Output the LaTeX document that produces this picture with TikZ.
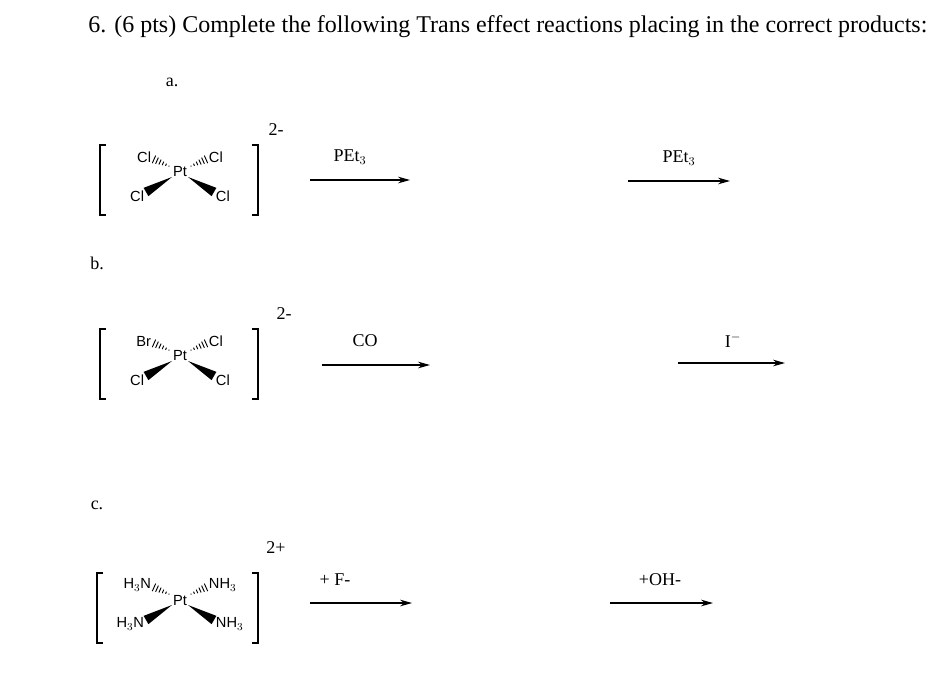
\documentclass[tikz,border=0pt]{standalone}
\usepackage{fontspec}
\setmainfont{Liberation Serif}
\newfontfamily\chemf{Liberation Sans}
\usetikzlibrary{calc,arrows.meta}
\tikzset{lab/.style={font=\chemf\fontsize{11}{12}\selectfont,inner sep=0.5pt},
 txt/.style={font=\fontsize{13.5}{15}\selectfont,inner sep=0pt},
 rxn/.style={-{Stealth[length=9pt,width=5pt]},line width=0.9pt},
 brk/.style={line width=0.8pt}}
\newcommand{\hashb}[2]{%
 \foreach \t in {0.1,0.25,0.4,0.55,0.7,0.85,1.0}{%
  \coordinate (hm) at ($(#1)!\t!(#2)$);
  \draw[line width=0.7pt] ($(hm)!{\t*3.6pt}!90:(#2)$) -- ($(hm)!{\t*3.6pt}!-90:(#2)$);}}
\newcommand{\wedgeb}[2]{\fill (#1) -- ($(#2)!3.6pt!90:(#1)$) -- ($(#2)!3.6pt!-90:(#1)$) -- cycle;}
\newcommand{\cplx}[9]{%
 \node[lab] (#1pt) at (#2,#3) {Pt};
 \node[lab,anchor=east] (#1ul) at (#2-28,#3-15) {#4};
 \node[lab,anchor=west] (#1ur) at (#2+28,#3-15) {#5};
 \node[lab,anchor=east] (#1ll) at (#2-35,#3+24) {#6};
 \node[lab,anchor=west] (#1lr) at (#2+35,#3+24) {#7};
 \coordinate (#1a) at (#2-9,#3-5); \coordinate (#1b) at (#2-29,#3-14);
 \coordinate (#1c) at (#2+9,#3-5); \coordinate (#1d) at (#2+29,#3-14);
 \coordinate (#1e) at (#2-8,#3+5); \coordinate (#1f) at (#2-34,#3+20);
 \coordinate (#1g) at (#2+8,#3+5); \coordinate (#1h) at (#2+34,#3+20);
 \hashb{#1a}{#1b}\hashb{#1c}{#1d}\wedgeb{#1e}{#1f}\wedgeb{#1g}{#1h}
 \draw[brk] (#8+6,#3-27) -- (#8,#3-27) -- (#8,#3+43) -- (#8+6,#3+43);
 \draw[brk] (#9-6,#3-27) -- (#9,#3-27) -- (#9,#3+43) -- (#9-6,#3+43);
}
\begin{document}
\begin{tikzpicture}[x=0.75pt,y=-0.75pt]
\useasboundingbox (0,0) rectangle (952,690);
\node[anchor=west,font=\fontsize{18}{20}\selectfont,inner sep=0pt] (title) at (88,27) {6. (6 pts) Complete the following Trans effect reactions placing in the correct products:};
\node[txt] (la) at (172,82) {a.};
\node[txt] (lb) at (97,263) {b.};
\node[txt] (lc) at (97,505) {c.};
% a
\cplx{A}{180}{172}{Cl}{Cl}{Cl}{Cl}{100}{258}
\node[txt] (Ach) at (276,130) {2-};
\coordinate (a1s) at (310,180); \coordinate (a1e) at (410,180);
\draw[rxn] (a1s) -- (a1e); \node[txt] (a1l) at (350,157) {PEt$_3$};
\coordinate (a2s) at (628,181); \coordinate (a2e) at (730,181);
\draw[rxn] (a2s) -- (a2e); \node[txt] (a2l) at (679,158) {PEt$_3$};
% b
\cplx{B}{180}{356}{Br}{Cl}{Cl}{Cl}{100}{258}
\node[txt] (Bch) at (284,314) {2-};
\coordinate (b1s) at (322,365); \coordinate (b1e) at (430,365);
\draw[rxn] (b1s) -- (b1e); \node[txt] (b1l) at (365,341) {CO};
\coordinate (b2s) at (678,363); \coordinate (b2e) at (785,363);
\draw[rxn] (b2s) -- (b2e); \node[txt] (b2l) at (733,340) {I$^{-}$};
% c
\cplx{C}{180}{600}{H$_3$N}{NH$_3$}{H$_3$N}{NH$_3$}{97}{258}
\node[txt] (Cch) at (276,548) {2+};
\coordinate (c1s) at (310,603); \coordinate (c1e) at (412,603);
\draw[rxn] (c1s) -- (c1e); \node[txt] (c1l) at (335,580) {+ F-};
\coordinate (c2s) at (610,603); \coordinate (c2e) at (713,603);
\draw[rxn] (c2s) -- (c2e); \node[txt] (c2l) at (660,580) {+OH-};
\end{tikzpicture}
\end{document}
